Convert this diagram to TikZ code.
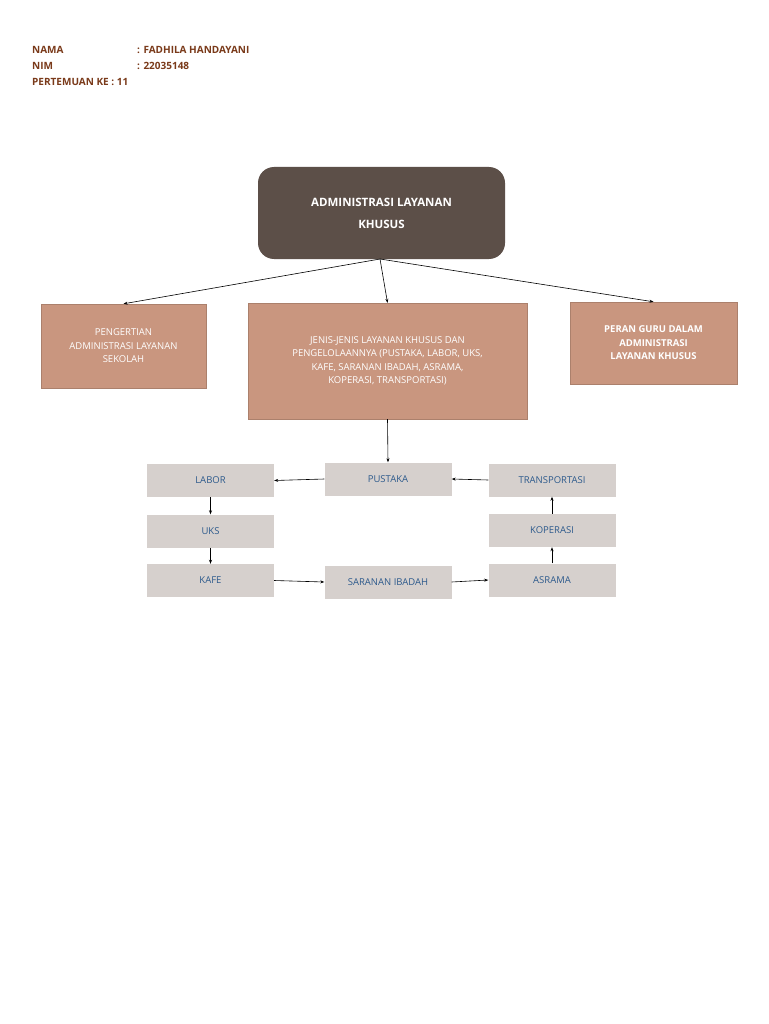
\documentclass[tikz,border=0pt]{standalone}
\usepackage{fontspec}
\setmainfont{Open Sans}
\usetikzlibrary{arrows.meta}
\definecolor{hdr}{HTML}{7A3A1A}
\definecolor{topc}{HTML}{5C4F48}
\definecolor{sal}{HTML}{C9967F}
\definecolor{gry}{HTML}{D6D0CD}
\definecolor{blu}{HTML}{2D5A8C}
\tikzset{
 salbox/.style={fill=sal,draw=sal!85!black,line width=0.4pt,text=white,align=center,font=\fontsize{9.5}{13.5}\selectfont,inner sep=0pt},
 gbox/.style={fill=gry,text=blu,font=\fontsize{9.5}{12}\selectfont,inner sep=0pt,minimum width=127pt,minimum height=33pt},
 arr/.style={-{Stealth[length=4pt,width=3pt]},line width=0.6pt},
 hd/.style={text=hdr,font=\bfseries\fontsize{10}{12}\selectfont,anchor=west,inner sep=0pt}
}
\begin{document}
\begin{tikzpicture}[x=1pt,y=-1pt]
\useasboundingbox[fill=white] (0,0) rectangle (768,1024);
\node[hd] (n1) at (32,50) {NAMA};
\node[hd] (n2) at (137,50) {: FADHILA HANDAYANI};
\node[hd] (n3) at (32,66) {NIM};
\node[hd] (n4) at (137,66) {: 22035148};
\node[hd] (n5) at (32,82) {PERTEMUAN KE : 11};
\node[fill=topc,rounded corners=16pt,minimum width=247pt,minimum height=92pt,text=white,align=center,font=\bfseries\fontsize{11.5}{22}\selectfont] (top) at (381.5,213) {ADMINISTRASI LAYANAN\\KHUSUS};
\node[salbox,minimum width=165pt,minimum height=84pt] (l) at (123.5,346) {PENGERTIAN\\ADMINISTRASI LAYANAN\\SEKOLAH};
\node[salbox,minimum width=279pt,minimum height=116pt] (m) at (387.5,361) {JENIS-JENIS LAYANAN KHUSUS DAN\\PENGELOLAANNYA (PUSTAKA, LABOR, UKS,\\KAFE, SARANAN IBADAH, ASRAMA,\\KOPERASI, TRANSPORTASI)};
\node[salbox,minimum width=167pt,minimum height=82pt,font=\bfseries\fontsize{9.5}{13.5}\selectfont] (r) at (653.5,343) {PERAN GURU DALAM\\ADMINISTRASI\\LAYANAN KHUSUS};
\coordinate (tb) at (380,259);
\draw[arr] (tb) -- (l.north);
\draw[arr] (tb) -- (m.north);
\draw[arr] (tb) -- (r.north);
\node[gbox] (lab) at (210.5,480.5) {LABOR};
\node[gbox] (uks) at (210.5,531) {UKS};
\node[gbox] (kaf) at (210.5,580.5) {KAFE};
\node[gbox] (pus) at (388,479) {PUSTAKA};
\node[gbox] (sar) at (388,582) {SARANAN IBADAH};
\node[gbox] (tra) at (552,480) {TRANSPORTASI};
\node[gbox] (kop) at (552,530.5) {KOPERASI};
\node[gbox] (asr) at (552,580) {ASRAMA};
\draw[arr] (m.south) -- (pus.north);
\draw[arr] (pus.west) -- (lab.east);
\draw[arr] (tra.west) -- (pus.east);
\draw[arr] (lab) -- (uks);
\draw[arr] (uks) -- (kaf);
\draw[arr] (kaf.east) -- (sar.west);
\draw[arr] (sar.east) -- (asr.west);
\draw[arr] (asr) -- (kop);
\draw[arr] (kop) -- (tra);
\end{tikzpicture}
\end{document}
